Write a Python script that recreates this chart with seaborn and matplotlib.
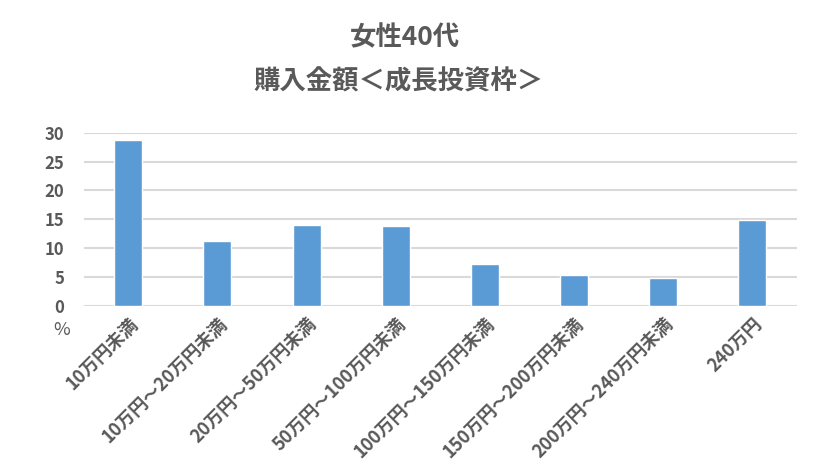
import matplotlib
matplotlib.use("Agg")
import matplotlib.pyplot as plt
import seaborn as sns
import pandas as pd

# データ
categories = [
    "10万円未満",
    "10万円～20万円未満",
    "20万円～50万円未満",
    "50万円～100万円未満",
    "100万円～150万円未満",
    "150万円～200万円未満",
    "200万円～240万円未満",
    "240万円",
]
values = [28.7, 11.2, 14.0, 13.8, 7.2, 5.3, 4.8, 14.9]

title_line1 = "女性40代"
title_line2 = "購入金額＜成長投資枠＞"

# スタイル
sns.set_style("white")
plt.rcParams["font.family"] = ["Noto Sans CJK JP", "DejaVu Sans"]

text_color = "#595959"
bar_color = "#5B9BD5"
grid_color = "#D9D9D9"

df = pd.DataFrame({"category": categories, "value": values})

fig = plt.figure(figsize=(8.13, 4.67), dpi=100)
ax = fig.add_axes([0.103, 0.3454, 0.877, 0.3704])

sns.barplot(
    data=df,
    x="category",
    y="value",
    color=bar_color,
    saturation=1,
    width=0.315,
    ax=ax
)

ax.set_ylim(0, 30)
ax.set_yticks([0, 5, 10, 15, 20, 25, 30])
ax.set_xlim(-0.5, len(categories) - 0.5)
ax.yaxis.grid(True, color=grid_color, linewidth=1.5)
ax.set_axisbelow(True)

for s in ["top", "right", "left", "bottom"]:
    ax.spines[s].set_visible(False)

ax.set_xlabel("")
ax.set_ylabel("")
ax.tick_params(axis="both", length=0)
ax.tick_params(axis="y", pad=14)

for lbl in ax.get_yticklabels():
    lbl.set_fontsize(12)
    lbl.set_fontweight("bold")
    lbl.set_color(text_color)

ax.set_xticks(range(len(categories)))
ax.set_xticklabels(
    categories,
    rotation=45,
    ha="right",
    rotation_mode="anchor",
    fontsize=13,
    fontweight="bold",
    color=text_color
)
ax.tick_params(axis="x", pad=6)

# %
fig.text(62 / 813, 1 - 330 / 467, "%", fontsize=13, color=text_color,
         ha="center", va="center")

# タイトル
fig.text(0.498, 1 - 38 / 467, title_line1, fontsize=19, fontweight="bold",
         color=text_color, ha="center", va="center")
fig.text(0.49, 1 - 82 / 467, title_line2, fontsize=19, fontweight="bold",
         color=text_color, ha="center", va="center")

fig.savefig("out.png", dpi=100)
